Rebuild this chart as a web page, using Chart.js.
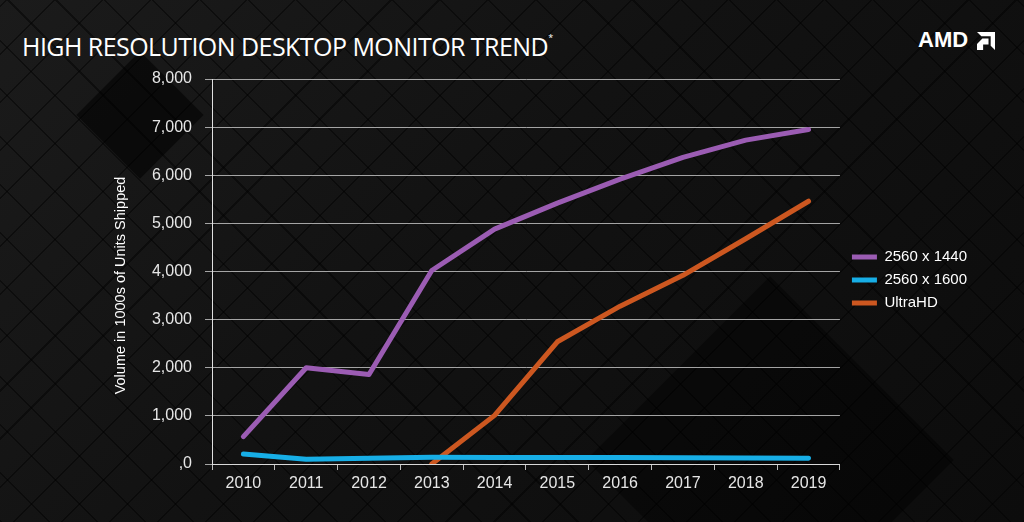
<!DOCTYPE html>
<html>
<head>
<meta charset="utf-8">
<script src="https://cdn.jsdelivr.net/npm/chart.js@4.4.1/dist/chart.umd.min.js"></script>
<style>
  html, body { margin: 0; padding: 0; }
  body {
    width: 1024px; height: 522px; overflow: hidden; position: relative;
    background-color: #151515;
    background-image:
      repeating-linear-gradient(45deg, rgba(0,0,0,0.45) 0 1.5px, transparent 1.5px 34px),
      repeating-linear-gradient(-45deg, rgba(0,0,0,0.45) 0 1.5px, transparent 1.5px 34px),
      linear-gradient(135deg, #1b1b1b 0%, #121212 45%, #0c0c0c 100%);
  }
  .deco { position: absolute; background: rgba(0,0,0,0.55); transform: rotate(45deg); }
  #title {
    position: absolute; left: 22px; top: 29px;
    font-family: "Open Sans", "Noto Sans", sans-serif; font-size: 25px; color: #ffffff;
    letter-spacing: -0.55px; white-space: nowrap;
  }
  #title sup { font-size: 9px; vertical-align: 15px; }
  #logo {
    position: absolute; left: 918px; top: 28px; height: 24px;
    display: flex; align-items: center; color: #fff;
    font-family: "Liberation Sans", Arial, sans-serif; font-weight: bold; font-size: 22px; letter-spacing: 0px;
  }
  #logo svg { margin-left: 9px; margin-top: 1px; }
  #wrap { position: absolute; left: 0; top: 0; width: 1024px; height: 522px; }
</style>
</head>
<body>
<div class="deco" style="left:95px;top:70px;width:90px;height:90px;"></div>
<div class="deco" style="left:640px;top:330px;width:260px;height:260px;background:rgba(0,0,0,0.4)"></div>
<div id="title">HIGH RESOLUTION DESKTOP MONITOR TREND<sup>*</sup></div>
<div id="logo">AMD<svg width="18" height="18" viewBox="0 0 100 100"><path d="M0,0 L100,0 L100,100 L76,76 L76,24 L24,24 Z" fill="#fff"/><path d="M0,100 L0,66 L30,36 L64,36 L64,70 L34,70 L34,100 Z" fill="#fff"/></svg></div>
<div id="wrap"><canvas id="c" width="1024" height="522"></canvas></div>
<script>
const categories = ["2010","2011","2012","2013","2014","2015","2016","2017","2018","2019"];
const seriesNames = ["2560 x 1440", "2560 x 1600", "UltraHD"];
const res1440 = [570, 2000, 1860, 4020, 4880, 5420, 5920, 6370, 6730, 6950];
const res1600 = [210, 100, 120, 140, 135, 135, 135, 130, 125, 120];
const ultraHD = [null, null, null, 0, 1010, 2540, 3280, 3920, 4680, 5460];
const yTickLabels = [",0", "1,000", "2,000", "3,000", "4,000", "5,000", "6,000", "7,000", "8,000"];
const seriesColors = ["#9b5cb3", "#17aee6", "#cc5720"];
const yAxisTitle = "Volume in 1000s of Units Shipped";

const tickFont = { family: "'Liberation Sans', Arial, sans-serif", size: 16 };

const legendNudge = {
  id: "legendNudge",
  afterLayout(chart) {
    const lg = chart.legend;
    if (!lg) return;
    lg.left += 4; lg.right += 4;
    lg.bottom -= 13;
  }
};

// y-axis title, drawn beside the y scale (slightly below the scale's centre as in the source)
const yTitle = {
  id: "yTitle",
  afterDraw(chart) {
    const ctx = chart.ctx;
    const s = chart.scales.y;
    ctx.save();
    ctx.translate(s.left + 13, (chart.chartArea.top + chart.chartArea.bottom) / 2 + 14);
    ctx.rotate(-Math.PI / 2);
    ctx.font = "14.5px 'Liberation Sans', Arial, sans-serif";
    ctx.fillStyle = "#ffffff";
    ctx.textAlign = "center";
    ctx.textBaseline = "middle";
    ctx.fillText(yAxisTitle, 0, 0);
    ctx.restore();
  }
};

new Chart(document.getElementById("c"), {
  type: "line",
  plugins: [legendNudge, yTitle],
  data: {
    labels: categories,
    datasets: [res1440, res1600, ultraHD].map((d, i) => ({
      label: seriesNames[i],
      data: d,
      borderColor: seriesColors[i],
      backgroundColor: seriesColors[i],
      borderWidth: 5,
      borderCapStyle: "round",
      borderJoinStyle: "round",
      pointRadius: 0,
      pointHoverRadius: 0,
      tension: 0,
      spanGaps: false
    }))
  },
  options: {
    responsive: false,
    animation: false,
    events: [],
    layout: { padding: { left: 108, top: 79, right: 51, bottom: 28 } },
    plugins: {
      tooltip: { enabled: false },
      legend: {
        position: "right",
        align: "center",
        labels: {
          usePointStyle: true,
          pointStyle: "line",
          pointStyleWidth: 25,
          boxHeight: 15,
          padding: 8,
          color: "#ffffff",
          font: { family: "'Liberation Sans', Arial, sans-serif", size: 15 }
        }
      }
    },
    scales: {
      x: {
        offset: true,
        grid: { offset: true, drawOnChartArea: false, drawTicks: true, tickLength: 6, color: "#bdbdbd" },
        border: { color: "#d8d8d8", width: 1 },
        ticks: { color: "#e6e6e6", font: tickFont, padding: 4, maxRotation: 0, autoSkip: false },
        afterFit: s => { s.height = 30; }
      },
      y: {
        min: 0, max: 8000,
        afterBuildTicks: s => { s.ticks = yTickLabels.map((_, i) => ({ value: i * 1000 })); },
        grid: { color: "rgba(190,190,190,0.85)", lineWidth: 1, tickLength: 7, drawTicks: true },
        border: { color: "#e0e0e0", width: 1 },
        ticks: {
          color: "#e6e6e6", font: tickFont, padding: 13,
          callback: (v, i) => yTickLabels[i]
        },
        title: { display: false },
        afterFit: s => { s.width = 104; }
      }
    }
  }
});
</script>
</body>
</html>
